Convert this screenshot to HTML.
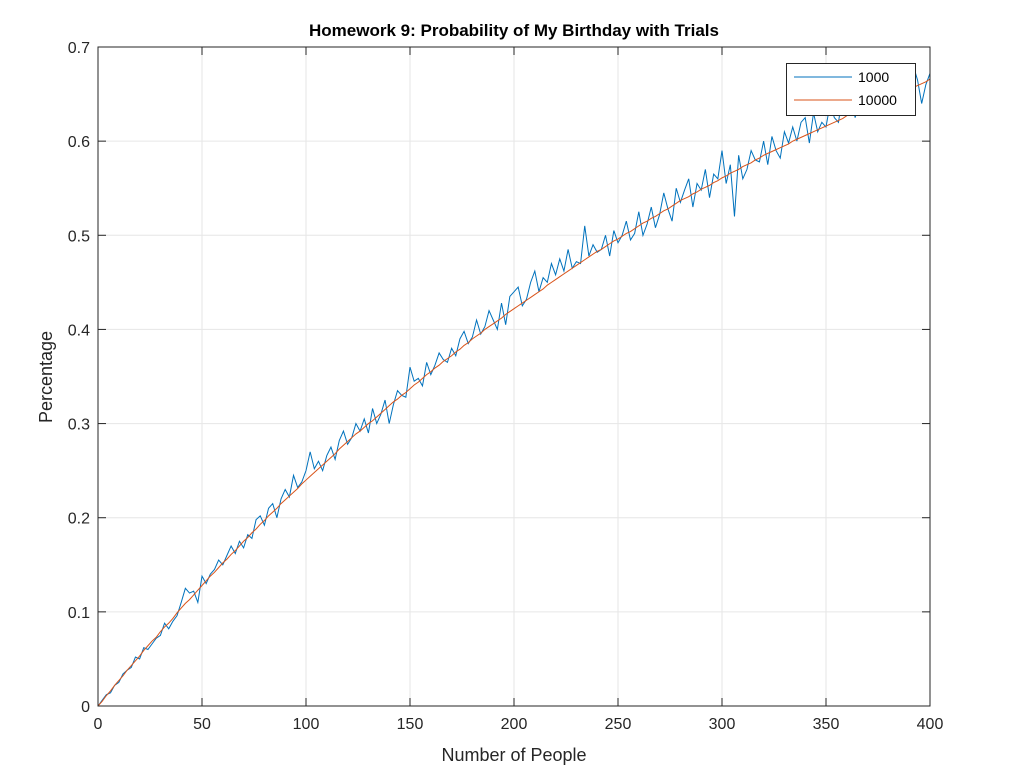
<!DOCTYPE html>
<html><head><meta charset="utf-8"><style>
body{margin:0;background:#fff;}
svg{display:block;font-family:"Liberation Sans",Arial,sans-serif;}
</style></head><body>
<svg id="chart" width="1024" height="769" viewBox="0 0 1024 769" xmlns="http://www.w3.org/2000/svg"></svg>
<script>
const xTicks=[0,50,100,150,200,250,300,350,400];
const yTicks=[0,0.1,0.2,0.3,0.4,0.5,0.6,0.7];
const yTickLabels=["0","0.1","0.2","0.3","0.4","0.5","0.6","0.7"];
const people=[];for(let n=2;n<=400;n+=2)people.push(n);
const trials10000=[5,11,16,22,27,32,38,43,48,53,59,64,69,73,79,84,88,93,99,104,109,113,118,123,128,133,138,142,147,152,156,161,165,170,175,179,184,188,193,197,202,206,210,215,219,223,227,231,236,240,244,248,252,256,260,264,268,273,277,281,285,289,292,296,300,303,307,311,315,319,323,326,330,333,337,341,344,348,352,355,359,362,366,369,372,376,379,383,386,390,393,396,400,403,406,409,412,416,419,422,425,428,431,434,437,440,443,447,450,453,456,459,462,465,468,471,474,477,480,483,485,488,491,494,496,499,502,504,507,510,513,515,518,520,523,526,528,531,534,537,539,541,544,546,549,551,553,556,558,561,563,566,568,570,573,575,577,580,582,585,587,589,591,593,595,597,600,602,604,606,608,610,612,614,616,618,620,622,624,627,629,631,633,635,637,638,640,642,644,647,649,651,652,654,656,657,659,661,663,666];
const trials1000=[6,12,14,22,25,34,38,41,52,50,62,60,66,72,75,88,82,90,96,110,125,120,122,110,138,130,140,145,155,150,160,170,162,175,168,182,178,198,202,192,210,215,200,220,230,222,245,232,238,250,270,252,260,250,266,275,262,282,292,278,285,300,292,305,290,316,300,310,325,300,320,335,330,328,360,345,348,340,365,352,362,375,368,365,380,372,390,398,385,392,410,395,403,420,410,400,428,405,435,440,445,425,432,450,462,440,455,450,470,458,475,462,485,465,472,470,510,478,490,482,485,500,478,505,492,500,515,495,502,525,500,512,530,508,522,545,528,515,550,535,548,560,530,555,548,570,540,565,560,590,555,575,520,585,560,570,590,580,578,600,575,605,590,582,610,598,615,600,620,625,598,630,610,620,615,640,625,620,650,632,650,625,640,655,630,660,645,635,660,650,665,640,670,652,660,680,665,640,660,672];

const svg=document.getElementById('chart');const NS='http://www.w3.org/2000/svg';
const L=98,R=930,T=47,B=706;
const xs=v=>L+(v-0)/400*(R-L);
const ys=v=>B-(v/0.7)*(B-T);
function mk(tag,attrs,parent){const e=document.createElementNS(NS,tag);for(const k in attrs)e.setAttribute(k,attrs[k]);(parent||svg).appendChild(e);return e;}
const grid=mk('g',{});


xTicks.forEach(v=>{mk('line',{x1:xs(v),x2:xs(v),y1:T,y2:B,stroke:'#e6e6e6','stroke-width':1},grid);});
yTicks.forEach(v=>{mk('line',{x1:L,x2:R,y1:ys(v),y2:ys(v),stroke:'#e6e6e6','stroke-width':1},grid);});
function series(vals,color,name){
  const d=vals.map((v,i)=>'L'+xs(people[i]).toFixed(2)+','+ys(v/1000).toFixed(2)).join('');
  const p=mk('path',{d:'M'+xs(0)+','+ys(0)+d,fill:'none',stroke:color,'stroke-width':1});
  
  
}
series(trials1000,'#0072BD','series-1000');
series(trials10000,'#D95319','series-10000');
const ax=mk('g',{});


mk('rect',{x:L,y:T,width:R-L,height:B-T,fill:'none',stroke:'#262626','stroke-width':1},ax);
xTicks.forEach(v=>{const x=xs(v);
  mk('line',{x1:x,x2:x,y1:B,y2:B-8,stroke:'#262626'},ax);
  mk('line',{x1:x,x2:x,y1:T,y2:T+8,stroke:'#262626'},ax);
  const t=mk('text',{x:x,y:B+23,'text-anchor':'middle','font-size':16,fill:'#262626'},ax);t.textContent=v;
  
  
});
yTicks.forEach((v,i)=>{const y=ys(v);
  mk('line',{x1:L,x2:L+8,y1:y,y2:y,stroke:'#262626'},ax);
  mk('line',{x1:R,x2:R-8,y1:y,y2:y,stroke:'#262626'},ax);
  const t=mk('text',{x:L-8,y:y+6,'text-anchor':'end','font-size':16,fill:'#262626'},ax);t.textContent=yTickLabels[i];
  
  
});
</script>
<svg style="position:absolute;left:0;top:0" width="1024" height="769">
<text x="514" y="36" text-anchor="middle" font-size="17" font-weight="bold" fill="#000" font-family="Liberation Sans, sans-serif">Homework 9: Probability of My Birthday with Trials</text>
<text x="514" y="761" text-anchor="middle" font-size="18" fill="#262626" font-family="Liberation Sans, sans-serif">Number of People</text>
<text transform="translate(52,377) rotate(-90)" text-anchor="middle" font-size="18" fill="#262626" font-family="Liberation Sans, sans-serif">Percentage</text>
<g>
<rect x="786.5" y="63.5" width="129" height="52" fill="#fff" stroke="#262626" stroke-width="1"/>
<line x1="794" x2="852" y1="77" y2="77" stroke="#0072BD"/>
<text x="858" y="82" font-size="14" fill="#000" font-family="Liberation Sans, sans-serif">1000</text>
<line x1="794" x2="852" y1="100" y2="100" stroke="#D95319"/>
<text x="858" y="105" font-size="14" fill="#000" font-family="Liberation Sans, sans-serif">10000</text>
</g>
</svg>
</body></html>
